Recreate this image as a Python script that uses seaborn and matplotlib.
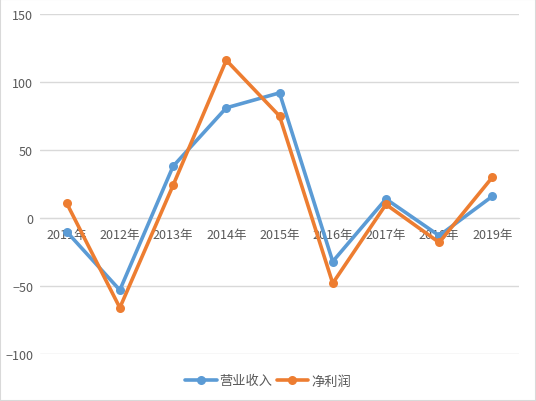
import matplotlib
matplotlib.use("Agg")
import matplotlib.pyplot as plt
import seaborn as sns
import pandas as pd
from matplotlib.patches import Rectangle

# chart data
years = ["2011年", "2012年", "2013年", "2014年", "2015年", "2016年", "2017年", "2018年", "2019年"]
revenue = [-10, -53, 38, 81, 92, -32, 14, -13, 16]      # 营业收入
net_profit = [11, -66, 24, 116, 75, -48, 10, -18, 30]   # 净利润
series_names = ["营业收入", "净利润"]
colors = ["#5B9BD5", "#ED7D31"]

df = pd.DataFrame({
    "year": years * 2,
    "value": revenue + net_profit,
    "series": [series_names[0]] * len(years) + [series_names[1]] * len(years),
})

sns.set_style("white")
plt.rcParams["font.family"] = ["Noto Sans CJK SC", "DejaVu Sans"]

fig = plt.figure(figsize=(5.36, 4.02), dpi=100)
ax = fig.add_axes([40 / 536, 1 - 355 / 402, 479 / 536, 340 / 402])

sns.lineplot(data=df, x="year", y="value", hue="series", palette=colors,
             marker="o", markersize=6.5, markeredgewidth=0, linewidth=2.6,
             sort=False, ax=ax, legend=True)

ax.set_xlim(-0.5, len(years) - 0.5)
ax.set_ylim(-100, 150)
ax.set_yticks([-100, -50, 0, 50, 100, 150])
ax.grid(axis="y", color="#d9d9d9", linewidth=1)
ax.set_axisbelow(True)
ax.set_xlabel("")
ax.set_ylabel("")

for side in ["top", "right", "left"]:
    ax.spines[side].set_visible(False)
ax.spines["bottom"].set_position(("data", 0))
ax.spines["bottom"].set_color("#d9d9d9")
ax.spines["bottom"].set_zorder(0)

ax.tick_params(axis="x", length=0, pad=7, labelsize=9, labelcolor="#595959")
ax.tick_params(axis="y", length=0, pad=5, labelsize=9, labelcolor="#595959")
for lbl in ax.get_xticklabels():
    lbl.set_zorder(1)

handles, labels = ax.get_legend_handles_labels()
ax.legend(handles, labels, loc="center", bbox_to_anchor=(268 / 536, 1 - 382 / 402),
          bbox_transform=fig.transFigure, ncol=2, frameon=False, fontsize=9.5,
          handlelength=2.4, columnspacing=0.3, handletextpad=0.2,
          labelcolor="#595959")

fig.patches.append(Rectangle((0, 0), 1, 1, transform=fig.transFigure, fill=False,
                             edgecolor="#d9d9d9", linewidth=1.5))

fig.savefig("out.png", dpi=100, facecolor="white")
